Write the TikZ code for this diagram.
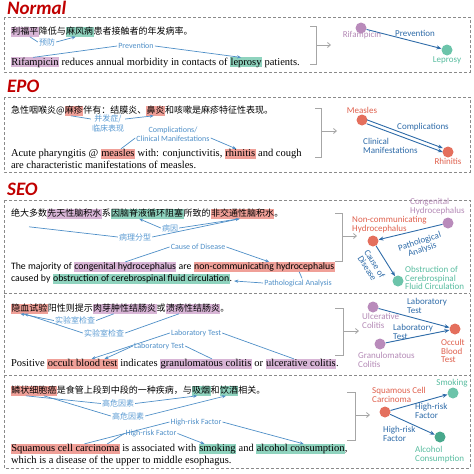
\documentclass[tikz,border=0pt]{standalone}
\usepackage{fontspec}
\setmainfont{Liberation Serif}
\newfontfamily\cjk{Noto Sans CJK SC}
\newfontfamily\carl{Carlito}
\usetikzlibrary{arrows.meta}
\newcommand\tsp{\ \null}
\definecolor{hlP}{HTML}{D8B5D6}
\definecolor{hlG}{HTML}{8FD3BE}
\definecolor{hlR}{HTML}{F0A098}
\definecolor{nP}{HTML}{B98BBB}
\definecolor{nG}{HTML}{6CC4AA}
\definecolor{nGd}{HTML}{48A88C}
\definecolor{nR}{HTML}{E46F5D}
\definecolor{tP}{HTML}{B48AB6}
\definecolor{tG}{HTML}{58BC9F}
\definecolor{tR}{HTML}{DF604D}
\definecolor{gB}{HTML}{2E6BA8}
\definecolor{lB}{HTML}{4F8FC7}
\definecolor{cB}{HTML}{5A9AD2}
\definecolor{ttl}{HTML}{C00000}
\definecolor{boxg}{HTML}{8A8A8A}
\definecolor{brk}{HTML}{A6A6A6}
\begin{document}
\begin{tikzpicture}[x=1pt,y=-1pt,
  seg/.style={inner sep=0pt,outer sep=0pt,anchor=base west},
  cnt/.style={seg,font=\cjk\fontsize{9}{11}\selectfont},
  ent/.style={seg,font=\fontsize{10.5}{12}\selectfont},
  sat/.style={seg,font=\carl\fontsize{9.8}{11}\selectfont},
  hili/.style={fill=#1,text height=7.6pt,text depth=2.3pt,inner xsep=0.4pt},
  cnlab/.style={font=\cjk\fontsize{8}{10}\selectfont,text=cB,inner sep=1pt,align=center},
  enlab/.style={font=\carl\fontsize{8}{8.5}\selectfont,text=lB,inner sep=1pt,align=center},
  link/.style={draw=lB,line width=0.7pt},
  arr/.style={link,-{Stealth[length=4pt,width=3.2pt]}},
  dot/.style={circle,fill=#1,minimum size=11pt,inner sep=0pt},
  glab/.style={font=\carl\fontsize{9}{8.7}\selectfont,inner sep=0pt,align=left,text=#1},
  gedge/.style={draw=gB,line width=0.9pt,-{Stealth[length=5pt,width=4pt]}},
  elab/.style={font=\carl\fontsize{9}{8.7}\selectfont,inner sep=0pt,align=left,text=gB},
  frame/.style={draw=boxg,line width=0.8pt,dash pattern=on 3pt off 2pt},
  brace/.style={draw=brk,line width=0.8pt},
  barr/.style={draw=brk,line width=0.8pt,-{Straight Barb[length=3pt,width=5pt]}},
  ttlstyle/.style={font=\carl\bfseries\itshape\fontsize{19}{20}\selectfont,text=ttl,inner sep=0pt,anchor=base west},
]
\useasboundingbox (0,0) rectangle (474,474);

% ================= Normal =================
\node[ttlstyle] (tN) at (7,14.5) {Normal};
\draw[frame] (4,17) rectangle (470,72);
\node[cnt,hili=hlP] (n1) at (11,34.5) {利福平};
\node[cnt] (n2) at (n1.base east) {降低与};
\node[cnt,hili=hlG] (n3) at (n2.base east) {麻风病};
\node[cnt] (n4) at (n3.base east) {患者接触者的年发病率。};
\node[cnlab] (l1) at (47,42) {预防};
\draw[link] ([xshift=5pt]n1.south) -- (l1.west);
\draw[arr] (l1.east) -- ([xshift=-4pt]n3.south);

\node[ent,hili=hlP] (e1) at (11,65) {Rifampicin};
\node[ent] (e2) at (e1.base east) {\ reduces annual morbidity in contacts of\tsp};
\node[ent,hili=hlG] (e3) at (e2.base east) {leprosy};
\node[ent] (e4) at (e3.base east) {\ patients.};
\node[enlab] (l2) at (136,46) {Prevention};
\draw[link] ([xshift=-2pt]e1.north) -- (l2.west);
\draw[arr] (l2.east) -- ([xshift=-5pt]e3.north);

\draw[brace] (310,26) -- (316,26) -- (316,64) -- (310,64);
\draw[barr] (316,45) -- (331,45);

\node[dot=nP] (gR) at (361,28) {};
\node[glab=tP,anchor=north] (gRl) at (362,31.5) {Rifampicin};
\node[dot=nG] (gL) at (447,50) {};
\node[glab=tG,anchor=north] (gLl) at (447,56.5) {Leprosy};
\draw[gedge] (gR) -- (gL);
\node[elab] (gP) at (415,33) {Prevention};

% ================= EPO =================
\node[ttlstyle] (tE) at (7,92.5) {EPO};
\draw[frame] (4,97) rectangle (470,172);
\node[cnt] (c1) at (11,113.5) {急性咽喉炎@};
\node[cnt,hili=hlR] (c2) at (c1.base east) {麻疹};
\node[cnt] (c3) at (c2.base east) {伴有：结膜炎、};
\node[cnt,hili=hlR] (c4) at (c3.base east) {鼻炎};
\node[cnt] (c5) at (c4.base east) {和咳嗽是麻疹特征性表现。};
\node[cnlab] (l3) at (108,123) {并发症/\\临床表现};
\draw[link] ([xshift=-3pt]c2.south) -- ([yshift=4pt]l3.west);
\draw[arr] ([yshift=4pt]l3.east) -- ([xshift=-2pt]c4.south);

\node[ent] (d1) at (11,156.5) {Acute pharyngitis @\tsp};
\node[ent,hili=hlR] (d2) at (d1.base east) {measles};
\node[ent] (d3) at (d2.base east) {\ with: conjunctivitis,\tsp};
\node[ent,hili=hlR] (d4) at (d3.base east) {rhinitis};
\node[ent] (d5) at (d4.base east) {\ and cough};
\node[ent] (d6) at (11,168.5) {are characteristic manifestations of measles.};
\node[enlab] (l4) at (173,134) {Complications/\\Clinical Manifestations};
\draw[link] ([xshift=3pt]d2.north) -- ([yshift=-4pt]l4.west);
\draw[arr] ([yshift=-4pt]l4.east) -- ([xshift=-4pt]d4.north);

\draw[brace] (315,108) -- (321,108) -- (321,157) -- (315,157);
\draw[barr] (321,131) -- (337,131);

\node[dot=nR] (gM) at (362,120) {};
\node[glab=tR,anchor=south] (gMl) at (362,113.5) {Measles};
\node[dot=nR] (gRh) at (448,152) {};
\node[glab=tR,anchor=north] (gRhl) at (448,158.5) {Rhinitis};
\draw[gedge,shorten <=5pt,shorten >=5.5pt] ([yshift=2pt]gM.center) -- ([yshift=2pt]gRh.center);
\draw[gedge,shorten <=5pt,shorten >=5.5pt] ([yshift=-2pt]gM.center) -- ([yshift=-2pt]gRh.center);
\node[elab] (gC) at (423,127) {Complications};
\node[elab,anchor=north west] (gCM) at (363,138.5) {Clinical\\Manifestations};

% ================= SEO =================
\node[ttlstyle] (tS) at (7,195.5) {SEO};
\draw[frame] (4,200) rectangle (470,468);
\draw[frame] (4,293) -- (470,293);
\draw[frame] (4,375) -- (470,375);

% --- hydrocephalus ---
\node[cnt] (s1) at (11,216.5) {绝大多数};
\node[cnt,hili=hlP] (s2) at (s1.base east) {先天性脑积水};
\node[cnt] (s3) at (s2.base east) {系};
\node[cnt,hili=hlG] (s4) at (s3.base east) {因脑脊液循环阻塞};
\node[cnt] (s5) at (s4.base east) {所致的};
\node[cnt,hili=hlR] (s6) at (s5.base east) {非交通性脑积水};
\node[cnt] (s7) at (s6.base east) {。};
\node[cnlab] (l5) at (170,228) {病因};
\node[cnlab] (l6) at (135,237) {病理分型};
\draw[arr] (l5.west) -- ([xshift=-8pt]s4.south);
\draw[link] (l5.east) -- ([xshift=-3pt]s6.south);
\draw[link] ([xshift=-18pt,yshift=-8pt]s2.south west) -- (l6.west);
\draw[arr] (l6.east) -- ([xshift=-3pt]s6.south);

\node[sat] (t1) at (11,269.5) {The majority of\tsp};
\node[sat,hili=hlP] (t2) at (t1.base east) {congenital hydrocephalus};
\node[sat] (t3) at (t2.base east) {\ are\tsp};
\node[sat,hili=hlR] (t4) at (t3.base east) {non-communicating hydrocephalus};
\node[sat] (t5) at (11,281.5) {caused by\tsp};
\node[sat,hili=hlG] (t6) at (t5.base east) {obstruction of cerebrospinal fluid circulation};
\node[sat] (t7) at (t6.base east) {.};
\node[enlab] (l7) at (198,247) {Cause of Disease};
\node[enlab] (l8) at (298,283) {Pathological Analysis};
\draw[link] (t2.north) -- (l7.west);
\draw[arr] (l7.east) -- ([xshift=5pt]t4.north);
\draw[link] ([xshift=35pt]t4.south) -- ([xshift=4pt]l8.north);
\draw[arr] (l8.west) -- ([xshift=2pt]t7.east);

\draw[brace] (335,213) -- (342,213) -- (342,261) -- (335,261);
\draw[barr] (342,236) -- (357,236);

\node[dot=nP] (gCH) at (448,223) {};
\node[glab=tP,anchor=north west] (gCHl) at (410,198.5) {Congenital\\Hydrocephalus};
\node[dot=nR] (gNC) at (373,241) {};
\node[glab=tR,anchor=north west] (gNCl) at (352,216) {Non-communicating\\Hydrocephalus};
\node[dot=nG] (gOB) at (398,281) {};
\node[glab=tG,anchor=north west] (gOBl) at (405,266) {Obstruction of\\Cerebrospinal\\Fluid Circulation};
\draw[gedge] (gCH) -- (gNC);
\draw[gedge] (gNC) -- (gOB);
\node[elab,rotate=18,align=center] (gPA) at (421,246) {Pathological\\Analysis};
\node[elab,rotate=-58,align=center] (gCD) at (371,266) {Cause of\\Disease};

% --- colitis ---
\node[cnt,hili=hlR] (u1) at (11,311.5) {隐血试验};
\node[cnt] (u2) at (u1.base east) {阳性则提示};
\node[cnt,hili=hlP] (u3) at (u2.base east) {肉芽肿性结肠炎};
\node[cnt] (u4) at (u3.base east) {或};
\node[cnt,hili=hlP] (u5) at (u4.base east) {溃疡性结肠炎};
\node[cnt] (u6) at (u5.base east) {。};
\node[cnlab] (l9) at (75,320.5) {实验室检查};
\node[cnlab] (l10) at (104,333) {实验室检查};
\draw[arr] (l9.west) -- ([xshift=-9pt]u1.south);
\draw[link] (l9.east) -- ([xshift=-11pt]u3.south);
\draw[arr] (l10.west) -- ([xshift=-5pt]u1.south);
\draw[link] (l10.east) -- ([xshift=-14pt]u5.south);

\node[ent] (v1) at (11,366.5) {Positive\tsp};
\node[ent,hili=hlR] (v2) at (v1.base east) {occult blood test};
\node[ent] (v3) at (v2.base east) {\ indicates\tsp};
\node[ent,hili=hlP] (v4) at (v3.base east) {granulomatous colitis};
\node[ent] (v5) at (v4.base east) {\ or\tsp};
\node[ent,hili=hlP] (v6) at (v5.base east) {ulcerative colitis};
\node[ent] (v7) at (v6.base east) {.};
\node[enlab] (l11) at (196,333) {Laboratory Test};
\node[enlab] (l12) at (159,346) {Laboratory Test};
\draw[arr] (l11.west) -- ([xshift=9pt]v2.north);
\draw[link] (l11.east) -- ([xshift=-7pt]v6.north);
\draw[arr] (l12.west) -- ([xshift=22pt]v2.north);
\draw[link] (l12.east) -- ([xshift=6pt]v4.north);

\draw[brace] (335,308) -- (343,308) -- (343,355) -- (335,355);
\draw[barr] (343,331) -- (359,331);

\node[dot=nP] (gUC) at (373,307) {};
\node[glab=tP,anchor=north west] (gUCl) at (362,313) {Ulcerative\\Colitis};
\node[dot=nP] (gGC) at (380,344) {};
\node[glab=tP,anchor=north west] (gGCl) at (358,352) {Granulomatous\\Colitis};
\node[dot=nR] (gOT) at (455,329) {};
\node[glab=tR,anchor=north west] (gOTl) at (441,339) {Occult\\Blood\\Test};
\draw[gedge] (gUC) -- (gOT);
\draw[gedge] (gGC) -- (gOT);
\node[elab,anchor=north west] (gLT1) at (407,298) {Laboratory\\Test};
\node[elab,anchor=north west] (gLT2) at (393,324) {Laboratory\\Test};

% --- carcinoma ---
\node[cnt,hili=hlR] (w1) at (11,393.5) {鳞状细胞癌};
\node[cnt] (w2) at (w1.base east) {是食管上段到中段的一种疾病，与};
\node[cnt,hili=hlG] (w3) at (w2.base east) {吸烟};
\node[cnt] (w4) at (w3.base east) {和};
\node[cnt,hili=hlG] (w5) at (w4.base east) {饮酒};
\node[cnt] (w6) at (w5.base east) {相关。};
\node[cnlab] (l13) at (118,403.5) {高危因素};
\node[cnlab] (l14) at (128,416) {高危因素};
\draw[link] ([xshift=-8pt]w1.south) -- (l13.west);
\draw[arr] (l13.east) -- ([xshift=-4pt]w3.south);
\draw[link] ([xshift=10pt]w1.south) -- (l14.west);
\draw[arr] (l14.east) -- ([xshift=-3pt]w5.south);

\node[ent,hili=hlR] (x1) at (11,451.5) {Squamous cell carcinoma};
\node[ent] (x2) at (x1.base east) {\ is associated with\tsp};
\node[ent,hili=hlG] (x3) at (x2.base east) {smoking};
\node[ent] (x4) at (x3.base east) {\ and\tsp};
\node[ent,hili=hlG] (x5) at (x4.base east) {alcohol consumption};
\node[ent] (x6) at (x5.base east) {,};
\node[ent] (x7) at (11,463.5) {which is a disease of the upper to middle esophagus.};
\node[enlab] (l15) at (196,422) {High-risk Factor};
\node[enlab] (l16) at (151,433.5) {High-risk Factor};
\draw[link] (l15.west) -- ([xshift=19pt]x1.north);
\draw[arr] (l15.east) -- ([xshift=3pt]x5.north);
\draw[link] (l16.west) -- ([xshift=42pt]x1.north);
\draw[arr] (l16.east) -- ([xshift=-13pt]x3.north);

\draw[brace] (347,392) -- (355,392) -- (355,440) -- (347,440);
\draw[barr] (355,415) -- (370,415);

\node[dot=nR] (gSC) at (385,412) {};
\node[glab=tR,anchor=north west] (gSCl) at (372,387) {Squamous Cell\\Carcinoma};
\node[dot=nG] (gSM) at (453,393) {};
\node[glab=tG,anchor=south] (gSMl) at (452,387.5) {Smoking};
\node[dot=nGd] (gAC) at (440,437) {};
\node[glab=tG,anchor=north west] (gACl) at (415,446) {Alcohol\\Consumption};
\draw[gedge] (gSC) -- (gSM);
\draw[gedge] (gSC) -- (gAC);
\node[elab,anchor=north west] (gHR1) at (415,403) {High-risk\\Factor};
\node[elab,anchor=north west] (gHR2) at (383,426) {High-risk\\Factor};
\end{tikzpicture}
\end{document}
